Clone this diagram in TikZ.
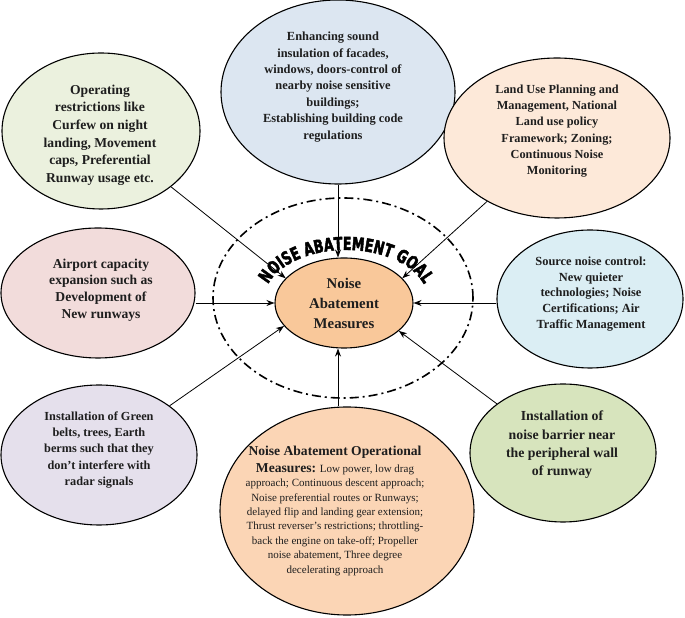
\documentclass[tikz,border=0pt]{standalone}
\usepackage{fontspec}
\setmainfont{Liberation Serif}
\newfontfamily\goalfont[FakeStretch=0.7,FakeBold=2.5,UprightFont={* Bold}]{DejaVu Sans}
\usetikzlibrary{shapes.geometric,arrows.meta,decorations.text}
\definecolor{cOp}{HTML}{EBF1DE}
\definecolor{cIns}{HTML}{DCE6F1}
\definecolor{cLand}{HTML}{FDE9D9}
\definecolor{cAir}{HTML}{F2DCDB}
\definecolor{cSrc}{HTML}{DBEEF4}
\definecolor{cBelt}{HTML}{E5E0EC}
\definecolor{cBar}{HTML}{D7E4BD}
\definecolor{cOps}{HTML}{FBD5B5}
\definecolor{cCen}{HTML}{F9C89A}
\definecolor{ink}{HTML}{1E1E1E}
\tikzset{
  bub/.style={ellipse, draw=black, line width=1.1pt, inner sep=0pt},
  txt/.style={align=center, font=\bfseries, text=ink, inner sep=0pt},
  arr/.style={-{Stealth[length=8pt,width=6pt]}, line width=0.8pt},
  zone/.style={ellipse, draw=black, line width=1.6pt, dash pattern=on 9pt off 4pt on 2pt off 4pt, inner sep=0pt}
}
\newcommand{\fsz}[2]{\fontsize{#1}{#2}\selectfont}
\begin{document}
\begin{tikzpicture}[x=1pt,y=1pt]
\useasboundingbox (0,0) rectangle (685,618);
% dash-dot zone
\node[zone, minimum width=260, minimum height=200] (zone) at (343,320) {};
% bubbles
\node[bub, fill=cOp,   minimum width=198, minimum height=156] (op)   at (101,487) {};
\node[bub, fill=cIns,  minimum width=234, minimum height=184] (ins)  at (338,526) {};
\node[bub, fill=cLand, minimum width=226, minimum height=160] (land) at (557,480) {};
\node[bub, fill=cAir,  minimum width=194, minimum height=130] (air)  at (98,325) {};
\node[bub, fill=cSrc,  minimum width=186, minimum height=138] (src)  at (590,319) {};
\node[bub, fill=cBelt, minimum width=196, minimum height=140] (belt) at (99,163) {};
\node[bub, fill=cBar,  minimum width=186, minimum height=138] (bar)  at (563,165) {};
\node[bub, fill=cOps,  minimum width=254, minimum height=208] (ops)  at (347,107) {};
\node[bub, fill=cCen,  minimum width=138, minimum height=90]  (c)    at (344,315) {};
% texts
\node[txt, font=\bfseries\fsz{13.6}{17.6}] (opt) at (100,483) {Operating\\restrictions like\\Curfew on night\\landing, Movement\\caps, Preferential\\Runway usage etc.};
\node[txt, font=\bfseries\fsz{12.4}{16.4}] (inst) at (333,531) {Enhancing sound\\insulation of facades,\\windows, doors-control of\\nearby noise sensitive\\buildings;\\Establishing building code\\regulations};
\node[txt, font=\bfseries\fsz{12.3}{16.2}] (landt) at (557,487) {Land Use Planning and\\Management, National\\Land use policy\\Framework; Zoning;\\Continuous Noise\\Monitoring};
\node[txt, font=\bfseries\fsz{13.6}{16.7}] (airt) at (101,328) {Airport capacity\\expansion such as\\Development of\\New runways};
\node[txt, font=\bfseries\fsz{12.4}{15.8}] (srct) at (591,324) {Source noise control:\\New quieter\\technologies; Noise\\Certifications; Air\\Traffic Management};
\node[txt, font=\bfseries\fsz{12.3}{16.25}] (beltt) at (99,168) {Installation of Green\\belts, trees, Earth\\berms such that they\\don’t interfere with\\radar signals};
\node[txt, font=\bfseries\fsz{13.8}{18.4}] (bart) at (562,173) {Installation of\\noise barrier near\\the peripheral wall\\of runway};
\node[txt, font=\fsz{11}{14.4}] (opst) at (335,107) {{\bfseries\fsz{13.6}{17}Noise Abatement Operational}\\[2pt]{\bfseries\fsz{13.6}{17}Measures:} Low power, low drag\\approach; Continuous descent approach;\\Noise preferential routes or Runways;\\delayed flip and landing gear extension;\\Thrust reverser’s restrictions; throttling-\\back the engine on take-off; Propeller\\noise abatement, Three degree\\decelerating approach};
\node[txt, font=\bfseries\fsz{14.8}{20}] (ct) at (344,315) {Noise\\Abatement\\Measures};
% curved goal text
\path[decorate, decoration={text along path, text align=center,
  text={|\goalfont\fsz{18}{18}|NOISE ABATEMENT GOAL}}]
  (346,318) ++(172:82 and 50) arc[start angle=172, end angle=8, x radius=82, y radius=50];
% connectors
\draw[arr] (op) -- (c.157);
\draw[arr] (ins.south) -- (ins.south |- c.north);
\draw[arr] (land) -- (c.23);
\draw[arr] (c.west -| air.east) -- (c.west);
\draw[arr] (c.east -| src.west) -- (c.east);
\draw[arr] (belt) -- (c.201);
\draw[arr] (ins.south |- ops.north) -- (ins.south |- c.south);
\draw[arr] (bar) -- (c.333);
\end{tikzpicture}
\end{document}
